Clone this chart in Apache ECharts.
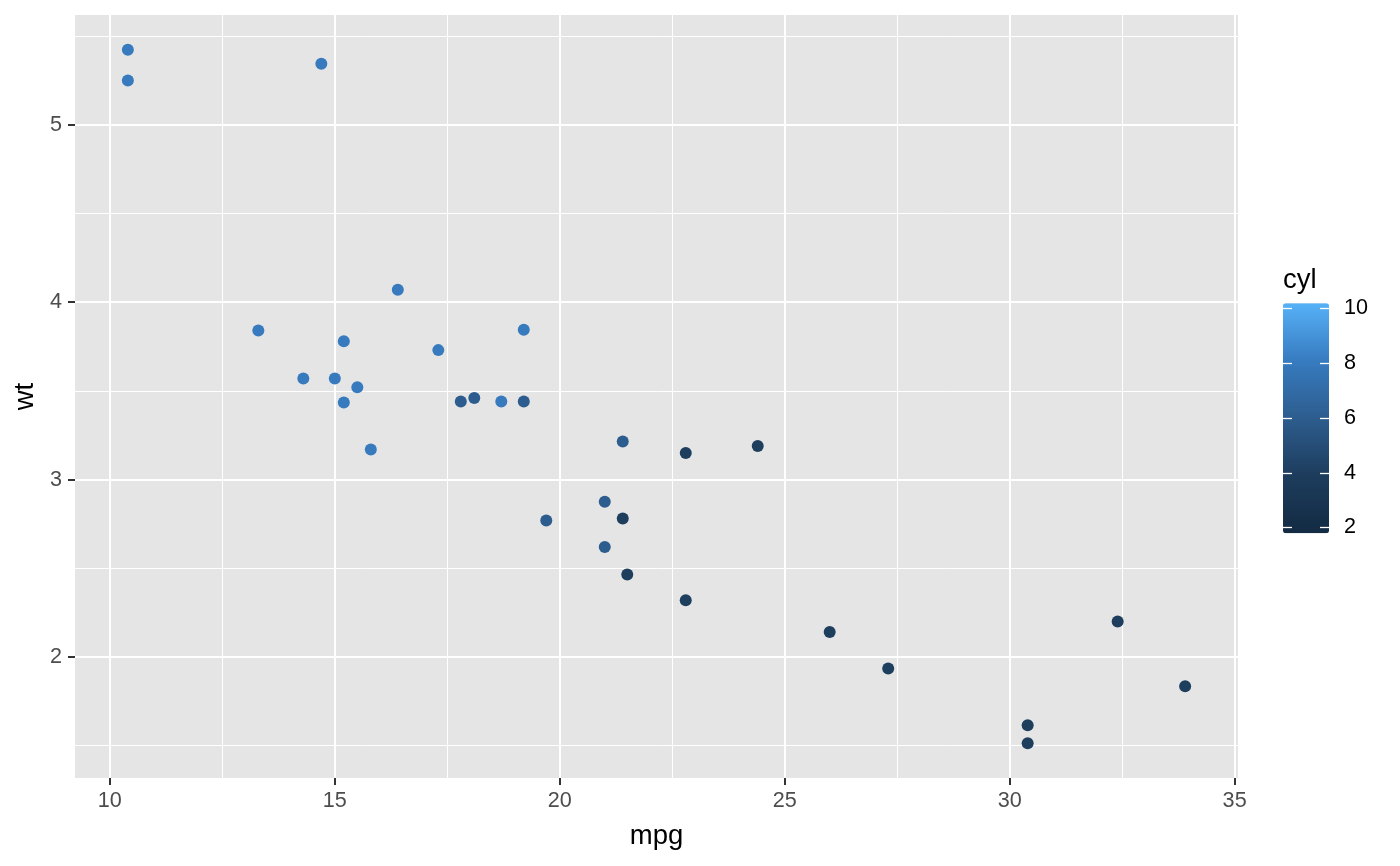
<!DOCTYPE html>
<html><head><meta charset="utf-8">
<script src="https://cdn.jsdelivr.net/npm/echarts@6/dist/echarts.min.js"></script>
<style>html,body{margin:0;padding:0;background:#fff}#c{width:1400px;height:866px}</style>
</head><body><div id="c"></div>
<script>
const mpg = [21.0,21.0,22.8,21.4,18.7,18.1,14.3,24.4,22.8,19.2,17.8,16.4,17.3,15.2,10.4,10.4,14.7,32.4,30.4,33.9,21.5,15.5,15.2,13.3,19.2,27.3,26.0,30.4,15.8,19.7,15.0,21.4];
const wt = [2.620,2.875,2.320,3.215,3.440,3.460,3.570,3.190,3.150,3.440,3.440,4.070,3.730,3.780,5.250,5.424,5.345,2.200,1.615,1.835,2.465,3.520,3.435,3.840,3.845,1.935,2.140,1.513,3.170,2.770,3.570,2.780];
const cyl = [6,6,4,6,8,6,8,4,4,6,6,8,8,8,8,8,8,4,4,4,4,8,8,8,8,4,4,4,8,6,8,4];
const xMajorTicks = [10,15,20,25,30,35];
const xMinorTicks = [12.5,17.5,22.5,27.5,32.5];
const yMajorTicks = [2,3,4,5];
const yMinorTicks = [1.5,2.5,3.5,4.5,5.5];
const cylTicks = [2,4,6,8,10];
const cylColors = ['#132B43','#1D3C5C','#2D5D8E','#377BC0','#56B1F7'];

function expand(arr){const lo=Math.min(...arr),hi=Math.max(...arr),d=(hi-lo)*0.05;return [lo-d,hi+d];}
const xr = expand(mpg), yr = expand(wt);
const FONT = '"Liberation Sans", Arial, Helvetica, sans-serif';
const data = mpg.map((m,i)=>[m, wt[i], cyl[i]]);

const barTick = {show:true, inside:true, length:9, lineStyle:{color:'#FFFFFF', width:1.3}};
const chart = echarts.init(document.getElementById('c'), null, {renderer:'canvas'});
chart.setOption({
  animation:false,
  textStyle:{fontFamily:FONT},
  title:{text:'cyl', left:1283, top:266, padding:0, textStyle:{fontSize:27.5, fontWeight:'normal', color:'#000', fontFamily:FONT}},
  grid:[
    {left:75, top:15, right:162, bottom:88, show:true, backgroundColor:'#E5E5E5', borderWidth:0, containLabel:false},
    {left:1283, top:308.5, width:46, height:219, show:false, containLabel:false}
  ],
  xAxis:[
    {gridIndex:0, type:'value', min:xr[0], max:xr[1],
     axisLine:{show:false},
     axisTick:{show:true, customValues:xMajorTicks, length:7, lineStyle:{color:'#333333', width:2}},
     axisLabel:{customValues:xMajorTicks, color:'#4D4D4D', fontSize:21.6, margin:12, fontFamily:FONT},
     splitLine:{show:true, lineStyle:{color:'#FFFFFF', width:2}},
     name:'mpg', nameLocation:'middle', nameGap:44,
     nameTextStyle:{color:'#000', fontSize:27.5, fontFamily:FONT}},
    {gridIndex:0, type:'value', min:xr[0], max:xr[1], position:'bottom',
     axisLine:{show:false},
     axisTick:{show:false, customValues:xMinorTicks},
     axisLabel:{show:false, customValues:xMinorTicks},
     splitLine:{show:true, lineStyle:{color:'#FFFFFF', width:1}}},
    {gridIndex:1, type:'value', min:0, max:1, show:false}
  ],
  yAxis:[
    {gridIndex:0, type:'value', min:yr[0], max:yr[1],
     axisLine:{show:false},
     axisTick:{show:true, customValues:yMajorTicks, length:7, lineStyle:{color:'#333333', width:2}},
     axisLabel:{customValues:yMajorTicks, color:'#4D4D4D', fontSize:21.6, margin:13, fontFamily:FONT},
     splitLine:{show:true, lineStyle:{color:'#FFFFFF', width:2}},
     name:'wt', nameLocation:'middle', nameGap:34, nameRotate:90,
     nameTextStyle:{color:'#000', fontSize:27.5, fontFamily:FONT}},
    {gridIndex:0, type:'value', min:yr[0], max:yr[1], position:'left',
     axisLine:{show:false},
     axisTick:{show:false, customValues:yMinorTicks},
     axisLabel:{show:false, customValues:yMinorTicks},
     splitLine:{show:true, lineStyle:{color:'#FFFFFF', width:1}}},
    {gridIndex:1, type:'value', min:cylTicks[0], max:cylTicks[cylTicks.length-1], interval:2, position:'right', z:10,
     axisLine:{show:false},
     axisTick:{show:false},
     axisLabel:{color:'#000', fontSize:21.6, margin:15, fontFamily:FONT},
     splitLine:{show:false}},
    {gridIndex:1, type:'value', min:cylTicks[0], max:cylTicks[cylTicks.length-1], interval:2, position:'left', z:10,
     axisLine:{show:false}, axisTick:barTick, axisLabel:{show:false}, splitLine:{show:false}},
    {gridIndex:1, type:'value', min:cylTicks[0], max:cylTicks[cylTicks.length-1], interval:2, position:'left', offset:-37, z:10,
     axisLine:{show:false}, axisTick:barTick, axisLabel:{show:false}, splitLine:{show:false}}
  ],
  visualMap:{
    type:'continuous', min:1.8, max:10.2, dimension:2, seriesIndex:0,
    left:1283, top:303.3, itemWidth:46, itemHeight:230, padding:0,
    calculable:false, showLabel:false, hoverLink:false, realtime:false,
    inRange:{color:cylColors}, z:4
  },
  series:[{
    type:'scatter', xAxisIndex:0, yAxisIndex:0, data:data,
    symbol:'circle', symbolSize:12, itemStyle:{opacity:1}
  }]
});
</script></body></html>
